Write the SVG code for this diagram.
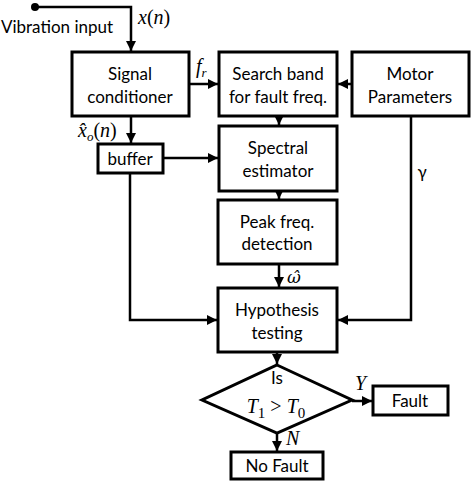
<svg xmlns="http://www.w3.org/2000/svg" width="474" height="483" viewBox="0 0 474 483">
<style>
.box{fill:#fff;stroke:#000;stroke-width:3}
.t{font-family:Lato,"Open Sans",sans-serif;font-size:17px;fill:#000;text-anchor:middle}
.m{font-family:"Liberation Serif","DejaVu Serif",serif;font-size:20px;fill:#000;font-style:italic}
.u{font-style:normal}
.c{fill:none;stroke:#000;stroke-width:2.5}
</style>
<defs>
<marker id="ah" viewBox="0 0 10 10" refX="10" refY="5" markerWidth="4" markerHeight="4" orient="auto" markerUnits="strokeWidth">
<path d="M0,0 L10,5 L0,10 z" fill="#000"/>
</marker>
</defs>
<rect width="474" height="483" fill="#fff"/>
<g id="connectors">
<circle cx="35" cy="7" r="4" fill="#000"/>
<path class="c" d="M35,7 H131 V51" marker-end="url(#ah)"/>
<path class="c" d="M189,84 H218" marker-end="url(#ah)"/>
<path class="c" d="M352,84 H338" marker-end="url(#ah)"/>
<path class="c" d="M131,116 V143" marker-end="url(#ah)"/>
<path class="c" d="M163,158 H218" marker-end="url(#ah)"/>
<path class="c" d="M279,116 V125" marker-end="url(#ah)"/>
<path class="c" d="M279,191 V199" marker-end="url(#ah)"/>
<path class="c" d="M279,264 V287" marker-end="url(#ah)"/>
<path class="c" d="M130,173 V320 H217" marker-end="url(#ah)"/>
<path class="c" d="M411,116 V320 H338" marker-end="url(#ah)"/>
<path class="c" d="M277,352 V364" marker-end="url(#ah)"/>
<path class="c" d="M352,401 H372" marker-end="url(#ah)"/>
<path class="c" d="M277,433 V451" marker-end="url(#ah)"/>
</g>
<g id="signal"><rect class="box" x="72" y="52" width="117" height="64"/><text class="t" x="130" y="80">Signal</text><text class="t" x="130" y="103">conditioner</text></g>
<g id="search"><rect class="box" x="219" y="52" width="118" height="64"/><text class="t" x="278" y="80">Search band</text><text class="t" x="278" y="103">for fault freq.</text></g>
<g id="motor"><rect class="box" x="352" y="52" width="117" height="64"/><text class="t" x="410" y="80">Motor</text><text class="t" x="410" y="103">Parameters</text></g>
<g id="buffer"><rect class="box" x="98" y="144" width="65" height="29"/><text class="t" x="130" y="165">buffer</text></g>
<g id="spectral"><rect class="box" x="219" y="126" width="118" height="65"/><text class="t" x="278" y="154">Spectral</text><text class="t" x="278" y="177">estimator</text></g>
<g id="peak"><rect class="box" x="218" y="200" width="119" height="64"/><text class="t" x="277" y="228">Peak  freq.</text><text class="t" x="277" y="250">detection</text></g>
<g id="hypothesis"><rect class="box" x="218" y="288" width="119" height="64"/><text class="t" x="277" y="316">Hypothesis</text><text class="t" x="277" y="339">testing</text></g>
<g id="decision"><path class="box" d="M277,365 L352,400 L277,433 L202,400 z"/><text class="t" x="277" y="384">Is</text><text class="m" x="276" y="413" text-anchor="middle" font-size="23">T<tspan font-size="15" dy="5" class="u">1</tspan><tspan dy="-5" class="u"> &gt; </tspan>T<tspan font-size="15" dy="5" class="u">0</tspan></text></g>
<g id="fault"><rect class="box" x="373" y="386" width="75" height="29"/><text class="t" x="410" y="407">Fault</text></g>
<g id="nofault"><rect class="box" x="231" y="452" width="92" height="27"/><text class="t" x="277" y="472">No Fault</text></g>
<g id="labels">
<text class="t" x="57" y="33">Vibration input</text>
<text class="m" x="138" y="24">x<tspan class="u">(</tspan>n<tspan class="u">)</tspan></text>
<text class="m" x="196" y="73">f<tspan font-size="13" dy="4">r</tspan></text>
<text class="m" x="78" y="137">x̂<tspan font-size="13" dy="4">o</tspan><tspan dy="-4" class="u">(</tspan>n<tspan class="u">)</tspan></text>
<text class="t" x="422" y="178" font-size="18">γ</text>
<text class="m" x="287" y="283" style="font-family:'DejaVu Serif',serif;font-size:17px">ω̂</text>
<text class="m" x="355" y="390">Y</text>
<text class="m" x="286" y="445">N</text>
</g>
</svg>
